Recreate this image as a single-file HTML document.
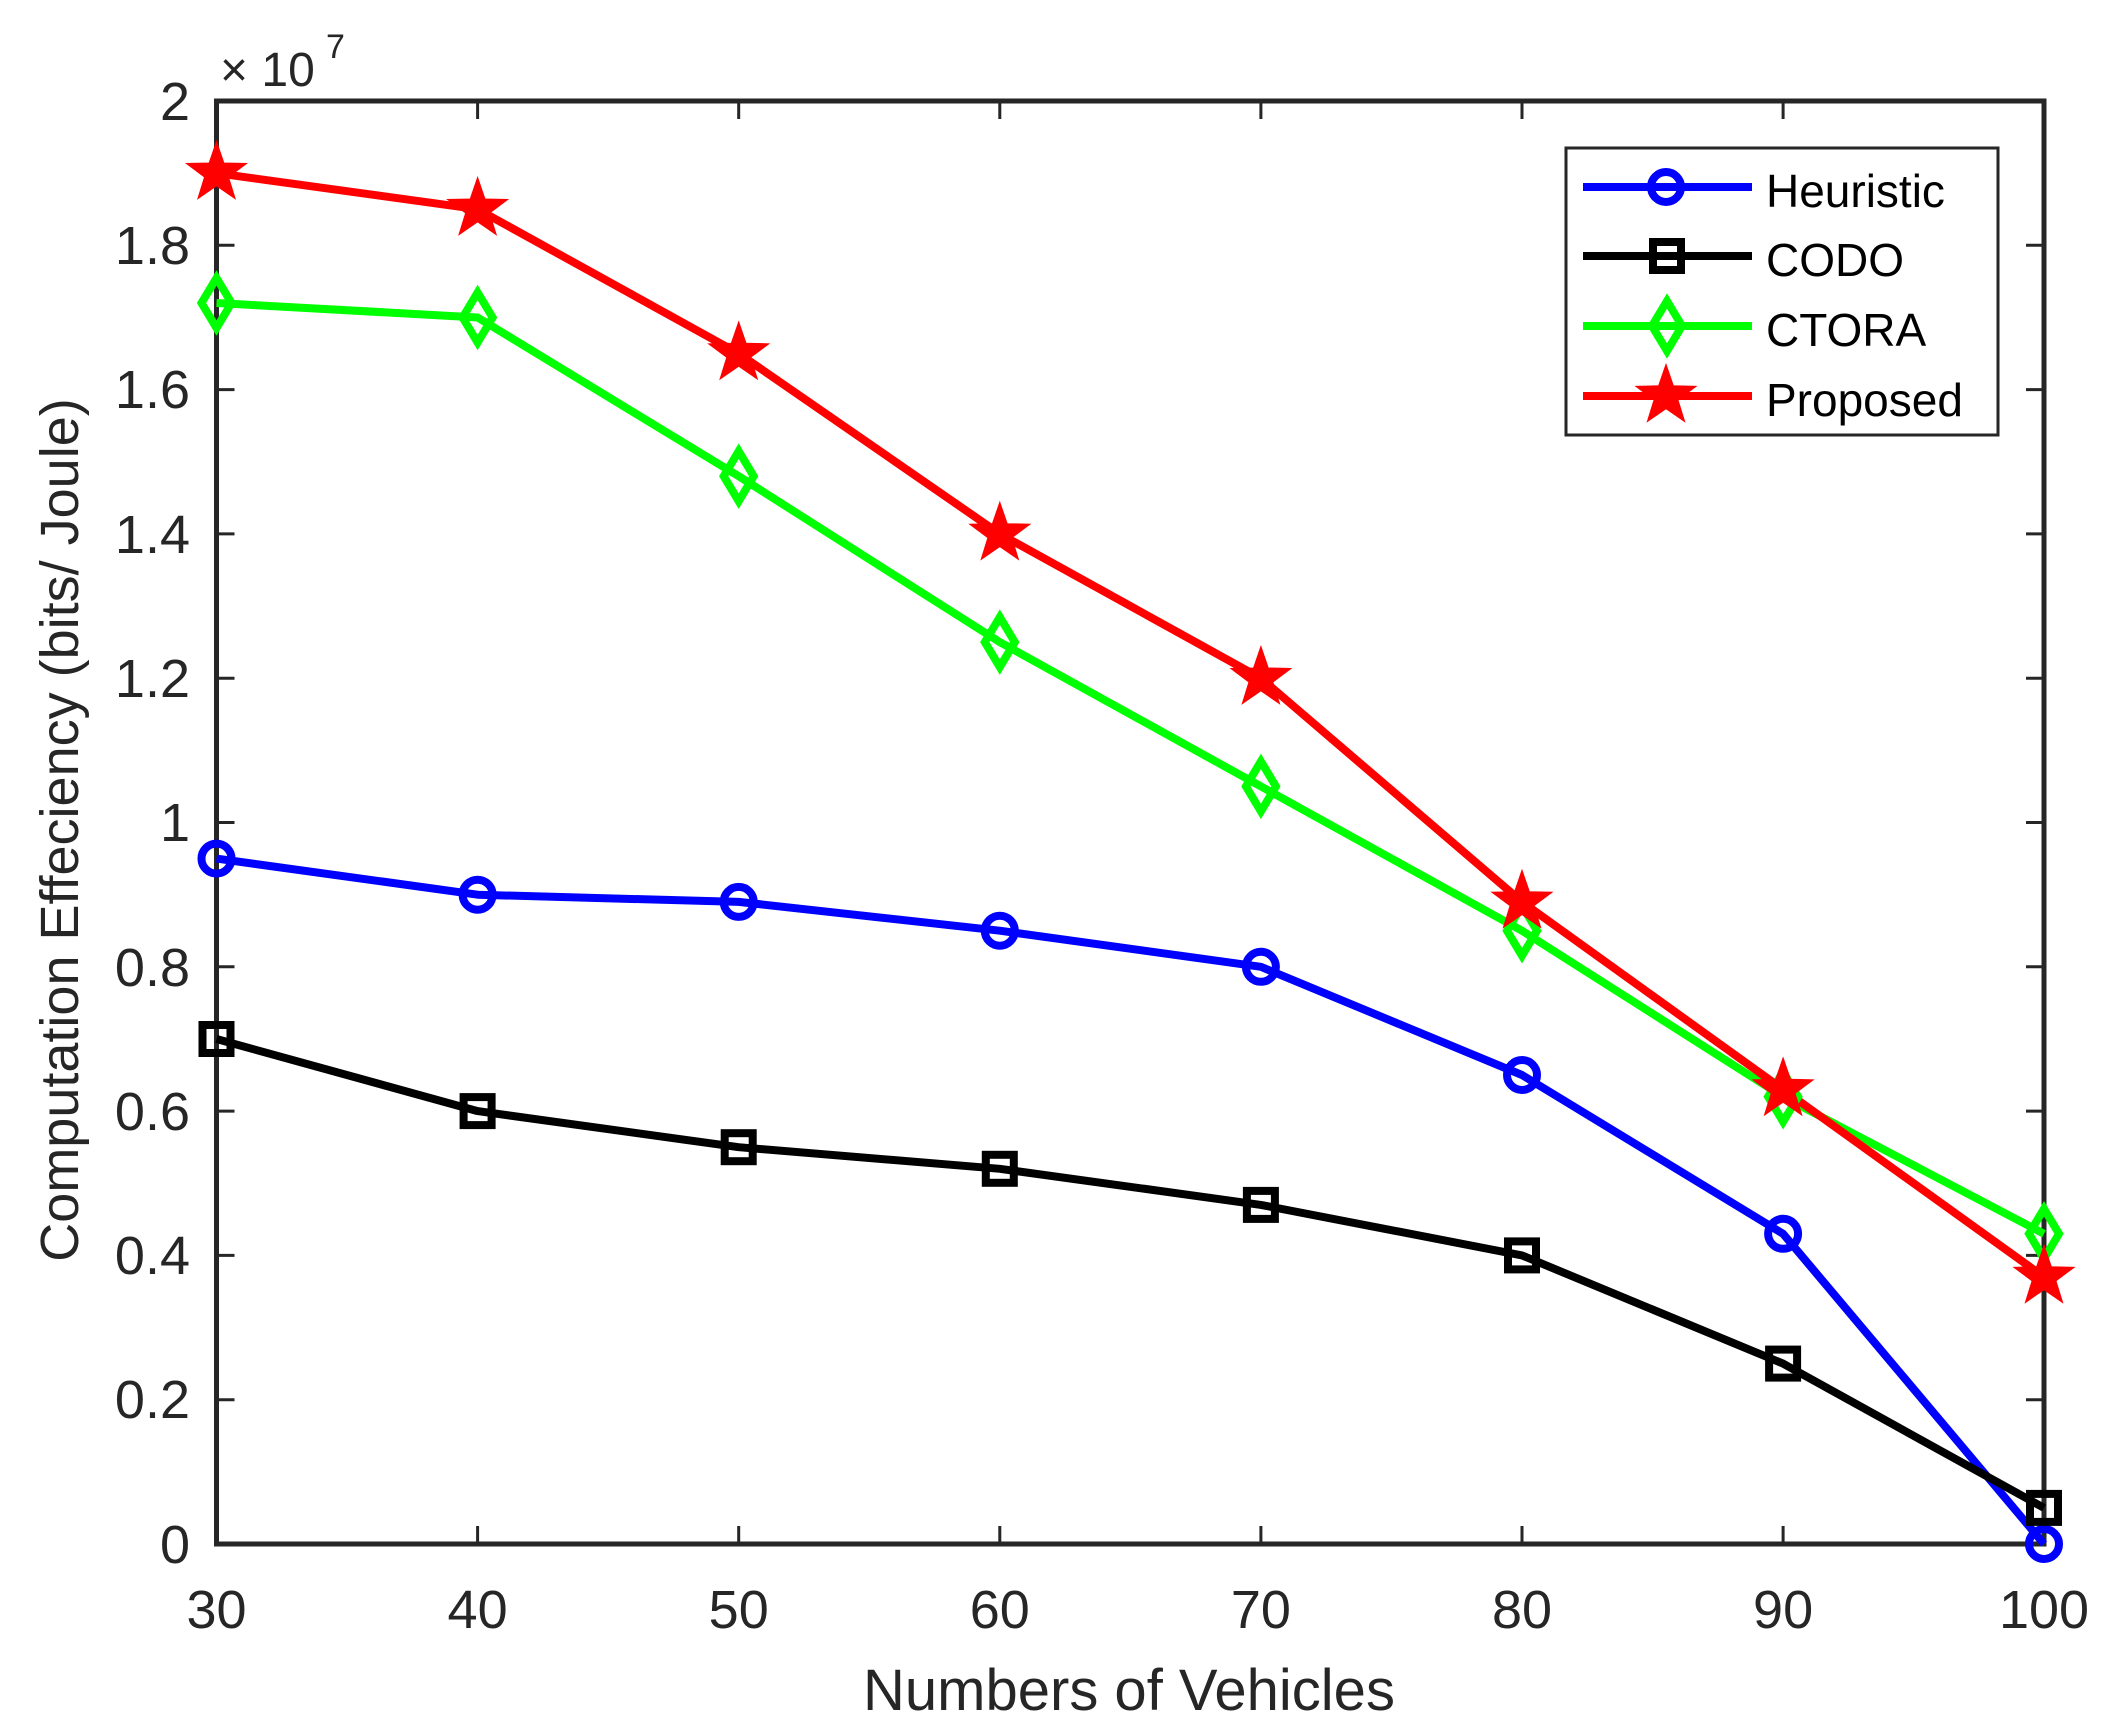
<!DOCTYPE html>
<html><head><meta charset="utf-8"><style>html,body{margin:0;padding:0;background:#fff}svg{display:block}</style></head>
<body>
<svg width="2117" height="1736" viewBox="0 0 2117 1736" xmlns="http://www.w3.org/2000/svg" font-family="Liberation Sans, sans-serif">
<defs>
<circle id="mc" r="15" fill="none" stroke="#0000ff" stroke-width="8"/>
<rect id="ms" x="-14" y="-14" width="28" height="28" fill="none" stroke="#000" stroke-width="8"/>
<polygon id="md" points="0,-25 15,0 0,25 -15,0" fill="none" stroke="#00ff00" stroke-width="8"/>
<polygon id="mp" points="0,-27 6.3,-8.7 25.7,-8.3 10.2,3.3 15.9,21.8 0,10.8 -15.9,21.8 -10.2,3.3 -25.7,-8.3 -6.3,-8.7" fill="#ff0000" stroke="#ff0000" stroke-width="4"/>
</defs>
<g stroke="#262626" stroke-width="5" fill="none">
<rect x="216.5" y="101" width="1827.5" height="1443"/>
</g>
<g stroke="#262626" stroke-width="3">
<path d="M477.6 1544v-18M738.7 1544v-18M999.8 1544v-18M1260.9 1544v-18M1522 1544v-18M1783.1 1544v-18
M477.6 101v18M738.7 101v18M999.8 101v18M1260.9 101v18M1522 101v18M1783.1 101v18
M216.5 1399.7h18M216.5 1255.4h18M216.5 1111.1h18M216.5 966.8h18M216.5 822.5h18M216.5 678.2h18M216.5 533.9h18M216.5 389.6h18M216.5 245.3h18
M2044 1399.7h-18M2044 1255.4h-18M2044 1111.1h-18M2044 966.8h-18M2044 822.5h-18M2044 678.2h-18M2044 533.9h-18M2044 389.6h-18M2044 245.3h-18"/>
</g>
<g font-size="54" fill="#262626" text-anchor="middle">
<text x="216.5" y="1628">30</text><text x="477.6" y="1628">40</text><text x="738.7" y="1628">50</text><text x="999.8" y="1628">60</text><text x="1260.9" y="1628">70</text><text x="1522" y="1628">80</text><text x="1783.1" y="1628">90</text><text x="2044" y="1628">100</text>
</g>
<g font-size="54" fill="#262626" text-anchor="end">
<text x="190" y="1563">0</text><text x="190" y="1418">0.2</text><text x="190" y="1274">0.4</text><text x="190" y="1130">0.6</text><text x="190" y="986">0.8</text><text x="190" y="841">1</text><text x="190" y="697">1.2</text><text x="190" y="553">1.4</text><text x="190" y="408">1.6</text><text x="190" y="264">1.8</text><text x="190" y="120">2</text>
</g>
<text x="220" y="86" font-size="48" fill="#262626">× 10</text>
<text x="326" y="58" font-size="34" fill="#262626">7</text>
<text x="1129" y="1710" font-size="58" fill="#262626" text-anchor="middle">Numbers of Vehicles</text>
<text transform="translate(78,830) rotate(-90)" font-size="54" fill="#262626" text-anchor="middle">Computation Effeciency (bits/ Joule)</text>
<g fill="none" stroke-width="8" stroke-linejoin="round">
<polyline stroke="#0000ff" points="216.5,858.6 477.6,894.7 738.7,901.9 999.8,930.7 1260.9,966.8 1522,1075 1783.1,1233.8 2044,1544"/>
<polyline stroke="#000" points="216.5,1039 477.6,1111.1 738.7,1147.2 999.8,1168.8 1260.9,1204.9 1522,1255.4 1783.1,1363.6 2044,1507.9"/>
<polyline stroke="#00ff00" points="216.5,303 477.6,317.5 738.7,476.2 999.8,642.1 1260.9,786.4 1522,930.7 1783.1,1096.7 2044,1233.8"/>
<polyline stroke="#ff0000" points="216.5,173.2 477.6,209.2 738.7,353.5 999.8,533.9 1260.9,678.2 1522,901.9 1783.1,1089.5 2044,1277"/>
</g>
<use href="#mc" x="216.5" y="858.6"/><use href="#mc" x="477.6" y="894.7"/><use href="#mc" x="738.7" y="901.9"/><use href="#mc" x="999.8" y="930.7"/><use href="#mc" x="1260.9" y="966.8"/><use href="#mc" x="1522" y="1075"/><use href="#mc" x="1783.1" y="1233.8"/><use href="#mc" x="2044" y="1544"/>
<use href="#ms" x="216.5" y="1039"/><use href="#ms" x="477.6" y="1111.1"/><use href="#ms" x="738.7" y="1147.2"/><use href="#ms" x="999.8" y="1168.8"/><use href="#ms" x="1260.9" y="1204.9"/><use href="#ms" x="1522" y="1255.4"/><use href="#ms" x="1783.1" y="1363.6"/><use href="#ms" x="2044" y="1507.9"/>
<use href="#md" x="216.5" y="303"/><use href="#md" x="477.6" y="317.5"/><use href="#md" x="738.7" y="476.2"/><use href="#md" x="999.8" y="642.1"/><use href="#md" x="1260.9" y="786.4"/><use href="#md" x="1522" y="930.7"/><use href="#md" x="1783.1" y="1096.7"/><use href="#md" x="2044" y="1233.8"/>
<use href="#mp" x="216.5" y="173.2"/><use href="#mp" x="477.6" y="209.2"/><use href="#mp" x="738.7" y="353.5"/><use href="#mp" x="999.8" y="533.9"/><use href="#mp" x="1260.9" y="678.2"/><use href="#mp" x="1522" y="901.9"/><use href="#mp" x="1783.1" y="1089.5"/><use href="#mp" x="2044" y="1277"/>
<rect x="1566" y="148" width="432" height="287" fill="#fff" stroke="#262626" stroke-width="3"/>
<g stroke-width="8">
<line x1="1583" y1="187" x2="1752" y2="187" stroke="#0000ff"/>
<line x1="1583" y1="256" x2="1752" y2="256" stroke="#000"/>
<line x1="1583" y1="326" x2="1752" y2="326" stroke="#00ff00"/>
<line x1="1583" y1="396" x2="1752" y2="396" stroke="#ff0000"/>
</g>
<use href="#mc" x="1666" y="187"/><use href="#ms" x="1667" y="256"/><use href="#md" x="1667" y="326"/><use href="#mp" x="1666" y="396"/>
<g font-size="46" fill="#000">
<text x="1766" y="207">Heuristic</text><text x="1766" y="276">CODO</text><text x="1766" y="346">CTORA</text><text x="1766" y="416">Proposed</text>
</g>
</svg>
</body></html>
